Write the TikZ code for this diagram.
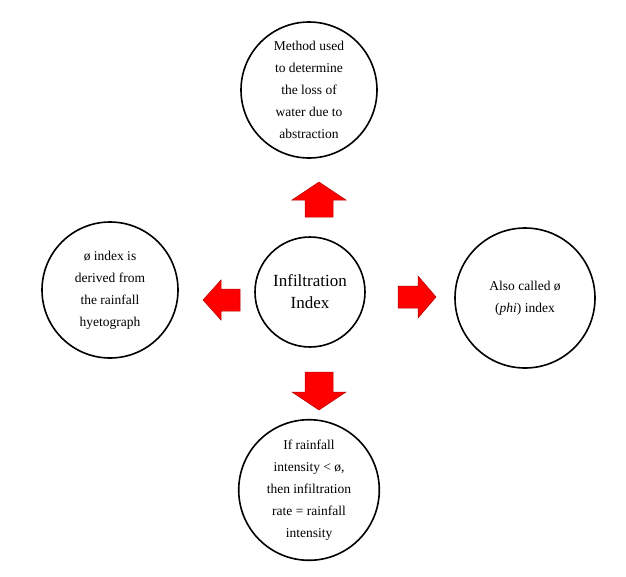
\documentclass[tikz,border=0pt]{standalone}
\usepackage{fontspec}
\setmainfont{Liberation Serif}
\begin{document}
\begin{tikzpicture}[x=1pt,y=-1pt,
  circ/.style={draw,line width=1.6pt,circle,align=center,font=\fontsize{13.5}{22}\selectfont},
  arr/.style={fill=red,draw=red!70!black,line width=0.5pt}]
\useasboundingbox (0,0) rectangle (626,576);
\node[circ,minimum size=110] (c) at (310,292) {\fontsize{17}{25}\selectfont Infiltration\\\fontsize{17}{25}\selectfont Index};
\node[circ,minimum size=136] (t) at (309,90) {Method used\\to determine\\the loss of\\water due to\\abstraction};
\node[circ,minimum size=136] (l) at (110,290) {ø index is\\derived from\\the rainfall\\hyetograph};
\node[circ,minimum size=140] (r) at (525,298) {Also called ø\\(\textit{phi}) index};
\node[circ,minimum size=136] (b) at (309,490) {If rainfall\\intensity < ø,\\then infiltration\\rate = rainfall\\intensity};
\draw[arr] (319,182) -- (346,200) -- (333,200) -- (333,217) -- (305,217) -- (305,200) -- (292,200) -- cycle;
\draw[arr] (319,410) -- (346,392) -- (333,392) -- (333,372) -- (305,372) -- (305,392) -- (292,392) -- cycle;
\draw[arr] (203,300) -- (221,280) -- (221,289) -- (240,289) -- (240,311) -- (221,311) -- (221,320) -- cycle;
\draw[arr] (436,297) -- (418,276) -- (418,286) -- (398,286) -- (398,308) -- (418,308) -- (418,318) -- cycle;
\end{tikzpicture}
\end{document}
